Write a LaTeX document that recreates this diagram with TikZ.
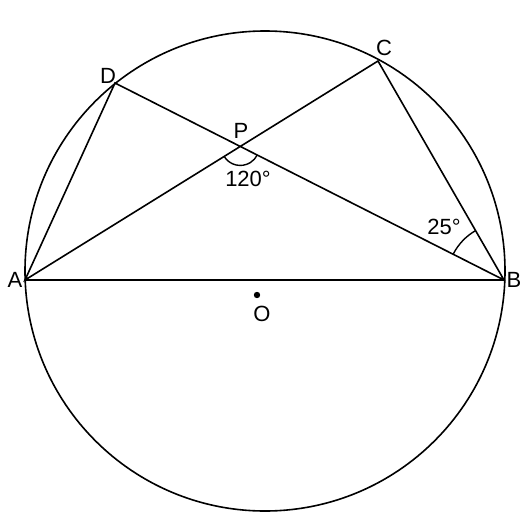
\documentclass[tikz,border=0pt]{standalone}
\usepackage{fontspec}
\setmainfont{Liberation Sans}
\usetikzlibrary{angles}

\tikzset{
  chord/.style={line width=1.6pt},
  lbl/.style={font=\fontsize{22}{26}\selectfont,inner sep=1pt}
}

\begin{document}
\begin{tikzpicture}[x=1pt,y=-1pt]
  \useasboundingbox (0,0) rectangle (530,525);
  \coordinate (O) at (265,271);
  \coordinate (A) at (25,280);
  \coordinate (B) at (504,280);
  \coordinate (C) at (378,61);
  \coordinate (D) at (115,83);
  \coordinate (P) at (intersection of A--C and D--B);
  \draw[chord] (O) circle (240);
  \draw[chord] (A) -- (B) -- (C) -- (A) -- (D) -- (B);
  \fill (257,295) circle (3.2);
  \pic[draw,line width=1.4pt,angle radius=19] {angle=A--P--B};
  \pic[draw,line width=1.4pt,angle radius=57] {angle=C--B--D};
  \node[lbl] (la) at (15,280) {A};
  \node[lbl] (lb) at (514,280) {B};
  \node[lbl] (lc) at (384,48) {C};
  \node[lbl] (ld) at (108,76) {D};
  \node[lbl] (lp) at (241,131) {P};
  \node[lbl] (lo) at (262,314) {O};
  \node[lbl] (lx) at (248,179) {120°};
  \node[lbl] (ly) at (444,227) {25°};
\end{tikzpicture}
\end{document}
